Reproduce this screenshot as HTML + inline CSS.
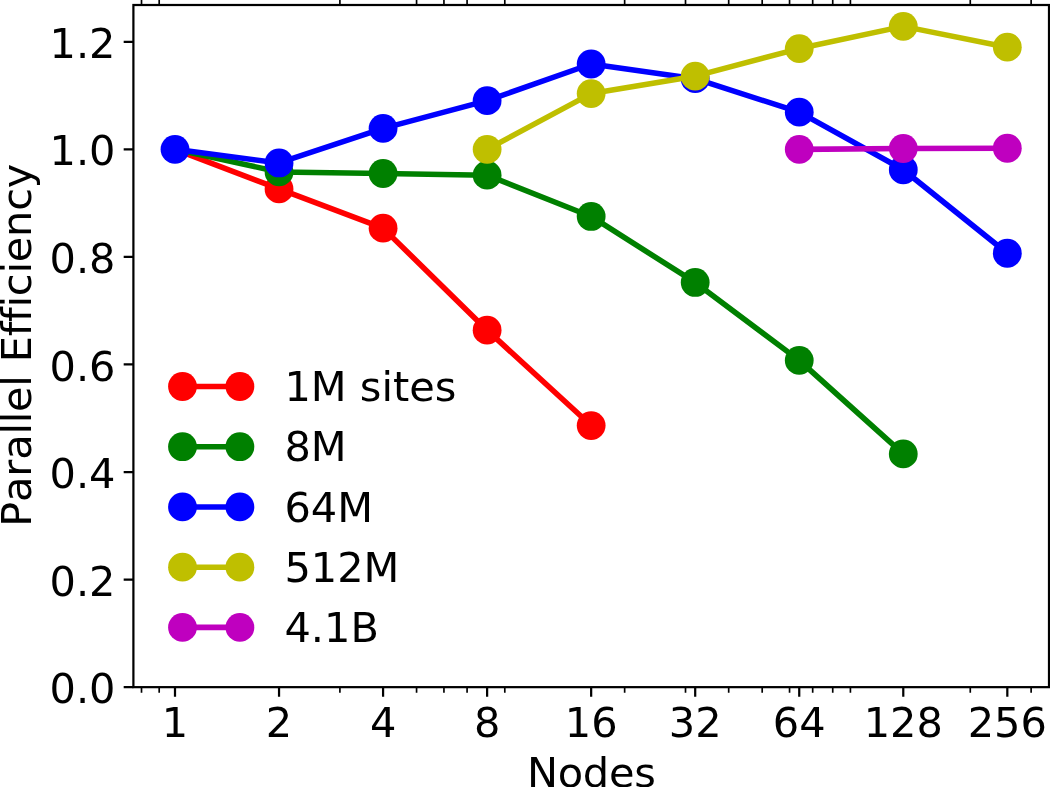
<!DOCTYPE html>
<html><head><meta charset="utf-8"><title>Parallel Efficiency</title>
<style>
html,body{margin:0;padding:0;background:#fff;}
body{width:1050px;height:787px;overflow:hidden;}
svg{display:block;}
text{font-family:"DejaVu Sans","Liberation Sans",sans-serif;font-size:41.5px;fill:#000;font-variant-ligatures:none;font-feature-settings:"liga" 0,"clig" 0;}
</style></head><body>
<svg width="1050" height="787" viewBox="0 0 1050 787">
<rect x="0" y="0" width="1050" height="787" fill="#fff"/>
<g fill="#ff0000" stroke="#ff0000"><polyline points="175.00,149.35 279.04,188.93 383.08,228.14 487.12,330.16 591.16,425.56" fill="none" stroke-width="5.56" stroke-linejoin="round"/>
<circle cx="279.04" cy="188.93" r="14.4" stroke="none"/><circle cx="383.08" cy="228.14" r="14.4" stroke="none"/><circle cx="487.12" cy="330.16" r="14.4" stroke="none"/><circle cx="591.16" cy="425.56" r="14.4" stroke="none"/></g>
<g fill="#008000" stroke="#008000"><polyline points="175.00,149.35 279.04,171.94 383.08,173.50 487.12,175.16 591.16,216.47 695.20,282.46 799.24,360.38 903.28,453.91" fill="none" stroke-width="5.56" stroke-linejoin="round"/>
<circle cx="279.04" cy="171.94" r="14.4" stroke="none"/><circle cx="383.08" cy="173.50" r="14.4" stroke="none"/><circle cx="487.12" cy="175.16" r="14.4" stroke="none"/><circle cx="591.16" cy="216.47" r="14.4" stroke="none"/><circle cx="695.20" cy="282.46" r="14.4" stroke="none"/><circle cx="799.24" cy="360.38" r="14.4" stroke="none"/><circle cx="903.28" cy="453.91" r="14.4" stroke="none"/></g>
<g fill="#0000ff" stroke="#0000ff"><polyline points="175.00,149.35 279.04,162.96 383.08,128.38 487.12,100.68 591.16,64.00 695.20,78.68 799.24,112.13 903.28,169.79 1007.32,253.25" fill="none" stroke-width="5.56" stroke-linejoin="round"/>
<circle cx="175.00" cy="149.35" r="14.4" stroke="none"/><circle cx="279.04" cy="162.96" r="14.4" stroke="none"/><circle cx="383.08" cy="128.38" r="14.4" stroke="none"/><circle cx="487.12" cy="100.68" r="14.4" stroke="none"/><circle cx="591.16" cy="64.00" r="14.4" stroke="none"/><circle cx="695.20" cy="78.68" r="14.4" stroke="none"/><circle cx="799.24" cy="112.13" r="14.4" stroke="none"/><circle cx="903.28" cy="169.79" r="14.4" stroke="none"/><circle cx="1007.32" cy="253.25" r="14.4" stroke="none"/></g>
<g fill="#bfbf00" stroke="#bfbf00"><polyline points="487.12,149.35 591.16,93.58 695.20,76.16 799.24,48.57 903.28,26.36 1007.32,47.17" fill="none" stroke-width="5.56" stroke-linejoin="round"/>
<circle cx="487.12" cy="149.35" r="14.4" stroke="none"/><circle cx="591.16" cy="93.58" r="14.4" stroke="none"/><circle cx="695.20" cy="76.16" r="14.4" stroke="none"/><circle cx="799.24" cy="48.57" r="14.4" stroke="none"/><circle cx="903.28" cy="26.36" r="14.4" stroke="none"/><circle cx="1007.32" cy="47.17" r="14.4" stroke="none"/></g>
<g fill="#bf00bf" stroke="#bf00bf"><polyline points="799.24,149.35 903.28,148.49 1007.32,148.27" fill="none" stroke-width="5.56" stroke-linejoin="round"/>
<circle cx="799.24" cy="149.35" r="14.4" stroke="none"/><circle cx="903.28" cy="148.49" r="14.4" stroke="none"/><circle cx="1007.32" cy="148.27" r="14.4" stroke="none"/></g>
<g stroke="#000" fill="none">
<path d="M141.51 687.15v5.56M141.51 5.0v-5.56M159.19 687.15v5.56M159.19 5.0v-5.56M339.90 687.15v5.56M339.90 5.0v-5.56M416.57 687.15v5.56M416.57 5.0v-5.56M443.94 687.15v5.56M443.94 5.0v-5.56M467.08 687.15v5.56M467.08 5.0v-5.56M504.80 687.15v5.56M504.80 5.0v-5.56M624.65 687.15v5.56M624.65 5.0v-5.56M685.51 687.15v5.56M685.51 5.0v-5.56M728.69 687.15v5.56M728.69 5.0v-5.56M762.19 687.15v5.56M762.19 5.0v-5.56M789.55 687.15v5.56M789.55 5.0v-5.56M812.69 687.15v5.56M812.69 5.0v-5.56M832.73 687.15v5.56M832.73 5.0v-5.56M850.41 687.15v5.56M850.41 5.0v-5.56M970.27 687.15v5.56M970.27 5.0v-5.56M1031.13 687.15v5.56M1031.13 5.0v-5.56" stroke-width="1.67"/>
<path d="M175.00 687.15v9.72M279.04 687.15v9.72M383.08 687.15v9.72M487.12 687.15v9.72M591.16 687.15v9.72M695.20 687.15v9.72M799.24 687.15v9.72M903.28 687.15v9.72M1007.32 687.15v9.72M133.4 687.15h-9.72M133.4 579.59h-9.72M133.4 472.03h-9.72M133.4 364.47h-9.72M133.4 256.91h-9.72M133.4 149.35h-9.72M133.4 41.79h-9.72" stroke-width="2.22"/>
<rect x="133.4" y="5.0" width="915.6" height="682.15" stroke-width="2.22"/>
</g>
<g text-anchor="middle">
<text x="175.00" y="737.2">1</text>
<text x="279.04" y="737.2">2</text>
<text x="383.08" y="737.2">4</text>
<text x="487.12" y="737.2">8</text>
<text x="591.16" y="737.2">16</text>
<text x="695.20" y="737.2">32</text>
<text x="799.24" y="737.2">64</text>
<text x="903.28" y="737.2">128</text>
<text x="1007.32" y="737.2">256</text>
<text x="526.9" y="786.8" letter-spacing="-0.25" text-anchor="start">Nodes</text>
</g>
<g text-anchor="end">
<text x="115.5" y="703.25">0.0</text>
<text x="115.5" y="595.69">0.2</text>
<text x="115.5" y="488.13">0.4</text>
<text x="115.5" y="380.57">0.6</text>
<text x="115.5" y="273.01">0.8</text>
<text x="115.5" y="165.45">1.0</text>
<text x="115.5" y="57.89">1.2</text>
</g>
<text transform="translate(30.9 345.3) rotate(-90)" text-anchor="middle" letter-spacing="-0.21" style="font-kerning:none">Parallel Efficiency</text>
<g fill="#ff0000" stroke="#ff0000"><line x1="182.5" y1="386.50" x2="239.9" y2="386.50" stroke-width="5.56"/><circle cx="182.5" cy="386.50" r="14.4" stroke="none"/><circle cx="239.9" cy="386.50" r="14.4" stroke="none"/></g>
<text x="284.4" y="401.20">1M sites</text>
<g fill="#008000" stroke="#008000"><line x1="182.5" y1="446.72" x2="239.9" y2="446.72" stroke-width="5.56"/><circle cx="182.5" cy="446.72" r="14.4" stroke="none"/><circle cx="239.9" cy="446.72" r="14.4" stroke="none"/></g>
<text x="284.4" y="461.42">8M</text>
<g fill="#0000ff" stroke="#0000ff"><line x1="182.5" y1="506.94" x2="239.9" y2="506.94" stroke-width="5.56"/><circle cx="182.5" cy="506.94" r="14.4" stroke="none"/><circle cx="239.9" cy="506.94" r="14.4" stroke="none"/></g>
<text x="284.4" y="521.64">64M</text>
<g fill="#bfbf00" stroke="#bfbf00"><line x1="182.5" y1="567.16" x2="239.9" y2="567.16" stroke-width="5.56"/><circle cx="182.5" cy="567.16" r="14.4" stroke="none"/><circle cx="239.9" cy="567.16" r="14.4" stroke="none"/></g>
<text x="284.4" y="581.86">512M</text>
<g fill="#bf00bf" stroke="#bf00bf"><line x1="182.5" y1="627.38" x2="239.9" y2="627.38" stroke-width="5.56"/><circle cx="182.5" cy="627.38" r="14.4" stroke="none"/><circle cx="239.9" cy="627.38" r="14.4" stroke="none"/></g>
<text x="284.4" y="642.08">4.1B</text>
</svg></body></html>
